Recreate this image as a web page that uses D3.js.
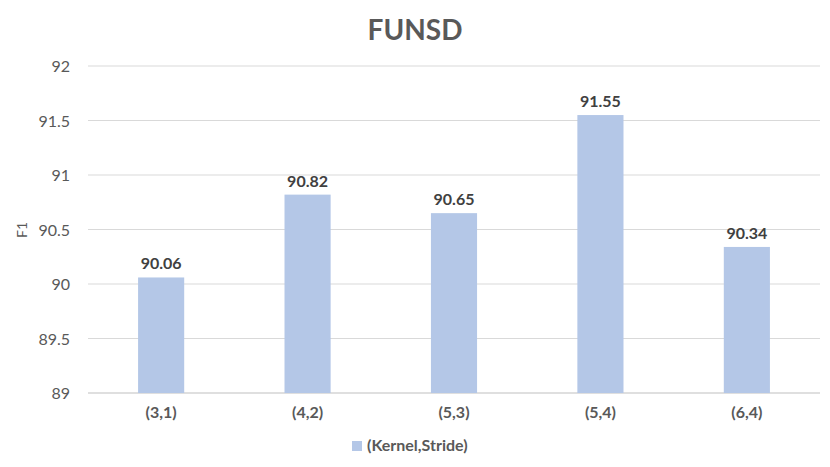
<!DOCTYPE html>
<html><head><meta charset="utf-8">
<script src="https://cdn.jsdelivr.net/npm/d3@7"></script>
<style>body{margin:0;background:#fff}text{font-family:Lato,"Open Sans",sans-serif}</style>
</head><body><svg width="830" height="467"></svg>
<script>
"use strict";
var categories = ["(3,1)", "(4,2)", "(5,3)", "(5,4)", "(6,4)"];
var values = [90.06, 90.82, 90.65, 91.55, 90.34];
var yTicks = [89, 89.5, 90, 90.5, 91, 91.5, 92];
var seriesName = "(Kernel,Stride)";

var svg = d3.select("svg");
var x = d3.scaleBand().domain(categories).range([88, 820]).paddingInner(0.685).paddingOuter(0.342);
var y = d3.scaleLinear().domain([89, 92]).range([393, 66]);

svg.selectAll("line.grid").data(yTicks).enter().append("line")
    .attr("x1", 88).attr("x2", 820)
    .attr("y1", function (d) { return y(d); }).attr("y2", function (d) { return y(d); })
    .attr("stroke", function (d) { return d === 89 ? "#bfbfbf" : "#d9d9d9"; }).attr("stroke-width", 1);

svg.selectAll("text.yt").data(yTicks).enter().append("text")
    .attr("x", 70).attr("y", function (d) { return y(d) + 6; })
    .attr("text-anchor", "end").attr("font-size", 16).attr("fill", "#595959")
    .text(function (d) { return d; });

svg.selectAll("rect.bar").data(values).enter().append("rect")
    .attr("x", function (d, i) { return x(categories[i]); })
    .attr("width", x.bandwidth())
    .attr("y", function (d) { return y(d); })
    .attr("height", function (d) { return y(89) - y(d); })
    .attr("fill", "#b4c7e7");

svg.selectAll("text.val").data(values).enter().append("text")
    .attr("x", function (d, i) { return x(categories[i]) + x.bandwidth() / 2; })
    .attr("y", function (d) { return y(d) - 8; })
    .attr("text-anchor", "middle").attr("font-size", 16).attr("font-weight", "bold").attr("fill", "#404040")
    .text(function (d) { return d.toFixed(2); });

svg.selectAll("text.xt").data(categories).enter().append("text")
    .attr("x", function (d) { return x(d) + x.bandwidth() / 2; })
    .attr("y", 418).attr("text-anchor", "middle").attr("font-size", 16).attr("font-weight", "bold").attr("fill", "#595959")
    .text(function (d) { return d; });

svg.append("text").attr("x", 415).attr("y", 40).attr("text-anchor", "middle")
    .attr("font-size", 28).attr("font-weight", "bold").attr("fill", "#595959").text("FUNSD");

svg.append("text").attr("transform", "translate(27,230) rotate(-90)").attr("text-anchor", "middle")
    .attr("font-size", 14).attr("fill", "#595959").text("F1");

svg.append("rect").attr("x", 352).attr("y", 441).attr("width", 10).attr("height", 10).attr("fill", "#b4c7e7");
svg.append("text").attr("x", 367).attr("y", 451).attr("font-size", 16).attr("font-weight", "bold")
    .attr("fill", "#595959").text(seriesName);
</script></body></html>
